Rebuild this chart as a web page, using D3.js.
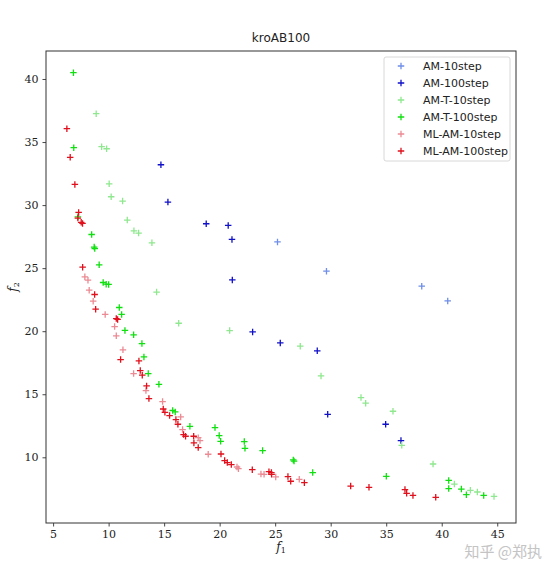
<!DOCTYPE html>
<html>
<head>
<meta charset="utf-8">
<script src="https://cdn.jsdelivr.net/npm/d3@7/dist/d3.min.js"></script>
<style>
    body { margin: 0; background: #fff; }
    svg text { fill: #222; }
</style>
</head>
<body>
<div id="chart"></div>
<script>
// pareto fronts, [f1, f2]
var am10 = [[25.21, 27.08], [29.62, 24.76], [38.2, 23.57], [40.54, 22.4]];

var am100 = [[14.71, 33.2], [15.34, 30.24], [18.79, 28.52], [20.77, 28.39], [21.11, 27.28],
    [21.14, 24.07], [22.97, 19.94], [25.46, 19.07], [28.79, 18.44], [29.73, 13.41],
    [34.95, 12.62], [36.33, 11.33]];

var amT10 = [[8.88, 37.25], [9.37, 34.63], [9.82, 34.47], [10.05, 31.69], [10.23, 30.66],
    [11.26, 30.32], [11.68, 28.81], [12.28, 27.96], [12.7, 27.78], [13.9, 27.01],
    [14.32, 23.1], [16.31, 20.63], [20.9, 20.05], [27.26, 18.81], [29.13, 16.45],
    [32.73, 14.74], [33.15, 14.29], [35.61, 13.65], [36.4, 10.95], [39.22, 9.47],
    [41.14, 7.88], [42.58, 7.38], [43.21, 7.25], [44.71, 6.9]];

var amT100 = [[6.83, 40.5], [6.86, 34.55], [7.23, 29.07], [8.47, 27.67], [8.7, 26.67],
    [8.75, 26.55], [9.15, 25.26], [9.51, 23.86], [9.78, 23.73], [10.0, 23.71],
    [10.96, 21.88], [11.17, 21.33], [11.47, 20.06], [12.25, 19.71], [13.0, 19.02],
    [13.18, 17.96], [13.57, 16.64], [14.53, 15.79], [15.77, 13.71], [16.0, 13.6],
    [17.32, 12.46], [19.58, 12.36], [19.96, 11.72], [20.09, 11.27], [22.22, 11.25],
    [22.28, 10.71], [23.87, 10.53], [26.63, 9.79], [26.7, 9.7], [28.38, 8.79],
    [35.01, 8.49], [40.63, 8.17], [40.63, 7.52], [41.77, 7.48], [42.22, 7.04],
    [43.78, 6.98]];

var ml10 = [[7.86, 24.31], [8.14, 24.05], [8.25, 23.25], [8.61, 22.38], [9.69, 21.33],
    [10.54, 20.37], [10.69, 19.63], [11.29, 18.52], [12.25, 16.64], [13.36, 15.29],
    [14.86, 14.42], [16.49, 13.2], [16.66, 12.2], [18.07, 11.56], [18.23, 11.33],
    [18.97, 10.24], [21.56, 9.23], [21.69, 9.1], [23.72, 8.67], [24.0, 8.65],
    [25.05, 8.44], [27.17, 8.25]];

var ml100 = [[6.24, 36.06], [6.54, 33.79], [6.96, 31.64], [7.3, 29.42], [7.23, 28.97],
    [7.53, 28.63], [7.65, 28.55], [7.66, 25.08], [8.74, 22.91], [8.83, 21.75],
    [10.69, 21.0], [10.81, 20.93], [11.08, 17.75], [12.73, 17.64], [12.85, 16.88],
    [13.03, 16.51], [13.42, 15.66], [13.63, 14.66], [14.92, 13.83], [15.07, 13.57],
    [15.49, 13.31], [16.06, 12.99], [16.24, 12.62], [16.75, 11.8], [16.93, 11.67],
    [17.66, 11.67], [17.68, 11.14], [18.07, 10.77], [20.12, 10.26], [20.45, 9.74],
    [20.69, 9.58], [21.05, 9.42], [22.94, 9.02], [24.44, 8.86], [24.66, 8.79],
    [24.68, 8.65], [26.15, 8.47], [26.4, 8.1], [27.63, 7.99], [31.8, 7.72],
    [33.45, 7.62], [36.69, 7.44], [36.84, 7.14], [37.41, 6.98], [39.46, 6.83]];

var seriesNames = ['AM-10step', 'AM-100step', 'AM-T-10step', 'AM-T-100step', 'ML-AM-10step', 'ML-AM-100step'];
var seriesColors = ['#6f8fe8', '#1010c8', '#8fe88f', '#10e010', '#ec8a94', '#e0101c'];
var xTicks = [5, 10, 15, 20, 25, 30, 35, 40, 45];
var yTicks = [10, 15, 20, 25, 30, 35, 40];

var width = 556, height = 565;
var margin = {top: 51, right: 40, bottom: 42, left: 46};

var svg = d3.select('#chart').append('svg')
    .attr('width', width)
    .attr('height', height);

var x = d3.scaleLinear().domain([4.36, 46.69]).range([margin.left, width - margin.right]);
var y = d3.scaleLinear().domain([4.79, 42.22]).range([height - margin.bottom, margin.top]);

var serif = '"DejaVu Serif", "Liberation Serif", serif';
var sans = '"DejaVu Sans", sans-serif';

// axes
var xAxis = svg.append('g')
    .attr('transform', 'translate(0,' + (height - margin.bottom) + ')')
    .call(d3.axisBottom(x).tickValues(xTicks).tickSize(3.5).tickPadding(4));
var yAxis = svg.append('g')
    .attr('transform', 'translate(' + margin.left + ',0)')
    .call(d3.axisLeft(y).tickValues(yTicks).tickSize(3.5).tickPadding(4));

[xAxis, yAxis].forEach(function (a) {
    a.select('.domain').remove();
    a.selectAll('.tick line').attr('stroke', '#333').attr('stroke-width', 0.9);
    a.selectAll('.tick text').attr('font-family', serif).attr('font-size', 11).attr('fill', '#333');
});

// frame
svg.append('rect')
    .attr('x', margin.left)
    .attr('y', margin.top)
    .attr('width', width - margin.left - margin.right)
    .attr('height', height - margin.top - margin.bottom)
    .attr('fill', 'none')
    .attr('stroke', '#333')
    .attr('stroke-width', 1);

function plus(size) {
    var h = size / 2;
    return 'M' + (-h) + ',0H' + h + 'M0,' + (-h) + 'V' + h;
}

var allSeries = [am10, am100, amT10, amT100, ml10, ml100];

allSeries.forEach(function (pts, i) {
    svg.append('g')
        .selectAll('path')
        .data(pts)
        .enter()
        .append('path')
        .attr('transform', function (d) { return 'translate(' + x(d[0]) + ',' + y(d[1]) + ')'; })
        .attr('d', plus(6.5))
        .attr('stroke', seriesColors[i])
        .attr('stroke-width', 1.3)
        .attr('fill', 'none');
});

// title and axis labels
svg.append('text')
    .attr('x', (margin.left + width - margin.right) / 2)
    .attr('y', margin.top - 9)
    .attr('text-anchor', 'middle')
    .attr('font-family', sans)
    .attr('font-size', 12)
    .text('kroAB100');

var xl = svg.append('text')
    .attr('x', (margin.left + width - margin.right) / 2)
    .attr('y', height - 14)
    .attr('text-anchor', 'middle')
    .attr('font-family', serif)
    .attr('font-size', 12);
xl.append('tspan').attr('font-style', 'italic').text('f');
xl.append('tspan').attr('font-size', 8).attr('dy', 2).text('1');

var yl = svg.append('text')
    .attr('transform', 'translate(17,' + ((margin.top + height - margin.bottom) / 2) + ') rotate(-90)')
    .attr('text-anchor', 'middle')
    .attr('font-family', serif)
    .attr('font-size', 12);
yl.append('tspan').attr('font-style', 'italic').text('f');
yl.append('tspan').attr('font-size', 8).attr('dy', 2).text('2');

// legend
var legend = svg.append('g').attr('transform', 'translate(384,57)');
legend.append('rect')
    .attr('width', 126)
    .attr('height', 104)
    .attr('rx', 2)
    .attr('fill', '#fff')
    .attr('stroke', '#d8d8d8');

seriesNames.forEach(function (name, i) {
    var row = legend.append('g').attr('transform', 'translate(0,' + (9 + i * 17) + ')');
    row.append('path')
        .attr('transform', 'translate(17,0)')
        .attr('d', plus(6.5))
        .attr('stroke', seriesColors[i])
        .attr('stroke-width', 1.3);
    row.append('text')
        .attr('x', 39)
        .attr('y', 4)
        .attr('font-family', sans)
        .attr('font-size', 11)
        .text(name);
});

// site watermark in the corner
svg.append('text')
    .attr('x', 542)
    .attr('y', 557)
    .attr('text-anchor', 'end')
    .attr('font-family', '"Noto Sans CJK SC", sans-serif')
    .attr('font-size', 15)
    .style('fill', '#c4c4c4')
    .text('知乎 @郑执');
</script>
</body>
</html>
